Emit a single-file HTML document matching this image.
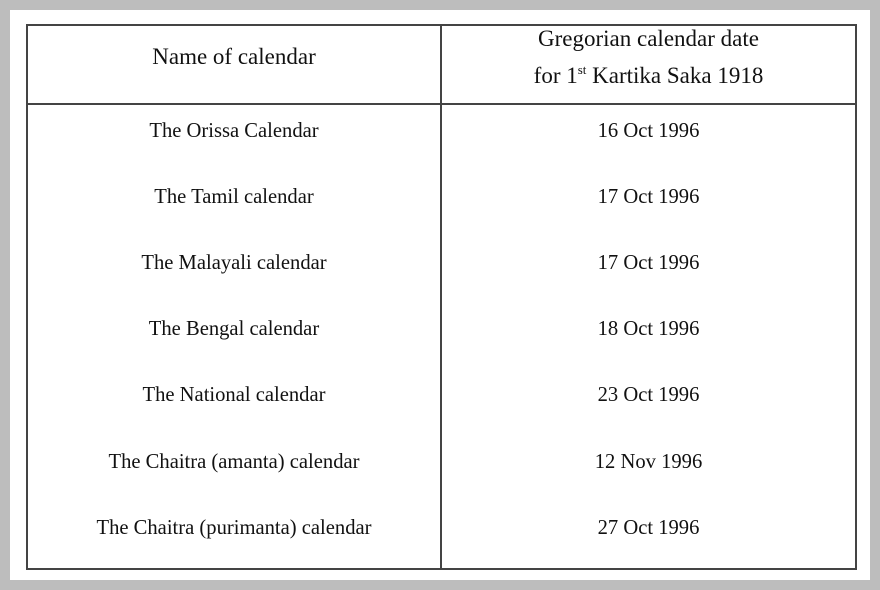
<!DOCTYPE html>
<html><head><style>
body{margin:0;width:880px;height:590px;background:#bdbdbd;position:relative;font-family:"Liberation Serif",serif;color:#111;overflow:hidden}
#w{position:absolute;left:10px;top:10px;width:860px;height:570px;background:#fff}
.l{position:absolute;background:#444}
.t{position:absolute;text-align:center;white-space:nowrap;font-size:20.6px;line-height:20px}
.h{font-size:23px;line-height:22px}
</style></head><body>
<div id="w"></div>
<div class="l" style="left:26px;top:24px;width:831px;height:2px"></div>
<div class="l" style="left:26px;top:568px;width:831px;height:2px"></div>
<div class="l" style="left:26px;top:24px;width:2px;height:546px"></div>
<div class="l" style="left:855px;top:24px;width:2px;height:546px"></div>
<div class="l" style="left:440px;top:24px;width:2px;height:546px"></div>
<div class="l" style="left:26px;top:103px;width:831px;height:2px"></div>
<div class="t h" style="left:28px;width:412px;top:46px">Name of calendar</div>
<div class="t h" style="left:442px;width:413px;top:28px">Gregorian calendar date</div>
<div class="t h" style="left:442px;width:413px;top:65px">for 1<sup style="font-size:13px;vertical-align:9px;line-height:0">st</sup> Kartika Saka 1918</div>
<div class="t" style="left:28px;width:412px;top:121px">The Orissa Calendar</div>
<div class="t" style="left:442px;width:413px;top:121px">16 Oct 1996</div>
<div class="t" style="left:28px;width:412px;top:187px">The Tamil calendar</div>
<div class="t" style="left:442px;width:413px;top:187px">17 Oct 1996</div>
<div class="t" style="left:28px;width:412px;top:253px">The Malayali calendar</div>
<div class="t" style="left:442px;width:413px;top:253px">17 Oct 1996</div>
<div class="t" style="left:28px;width:412px;top:319px">The Bengal calendar</div>
<div class="t" style="left:442px;width:413px;top:319px">18 Oct 1996</div>
<div class="t" style="left:28px;width:412px;top:385px">The National calendar</div>
<div class="t" style="left:442px;width:413px;top:385px">23 Oct 1996</div>
<div class="t" style="left:28px;width:412px;top:452px">The Chaitra (amanta) calendar</div>
<div class="t" style="left:442px;width:413px;top:452px">12 Nov 1996</div>
<div class="t" style="left:28px;width:412px;top:518px">The Chaitra (purimanta) calendar</div>
<div class="t" style="left:442px;width:413px;top:518px">27 Oct 1996</div>
</body></html>
